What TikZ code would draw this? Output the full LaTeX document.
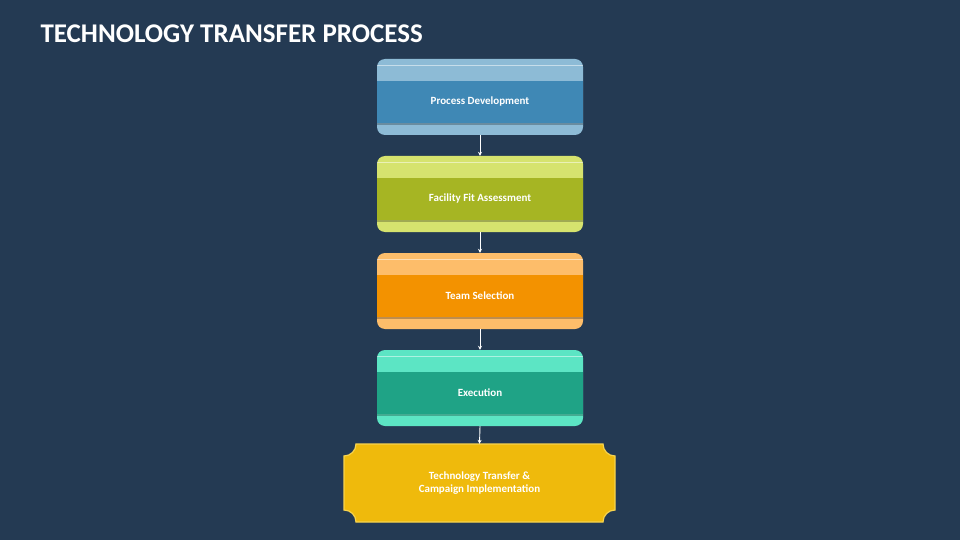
\documentclass[tikz,border=0pt]{standalone}
\usepackage{fontspec}
\setmainfont{Carlito}
\usepackage{tikz}
\usetikzlibrary{arrows.meta,calc,positioning}

\definecolor{bgcol}{HTML}{243A53}
\definecolor{blueL}{HTML}{8DBBD6}
\definecolor{blueD}{HTML}{3F88B5}
\definecolor{greenL}{HTML}{D6E36E}
\definecolor{greenD}{HTML}{A6B523}
\definecolor{orangeL}{HTML}{FDBD6A}
\definecolor{orangeD}{HTML}{F39200}
\definecolor{tealL}{HTML}{5CE5C4}
\definecolor{tealD}{HTML}{1FA386}
\definecolor{goldF}{HTML}{EFBA0C}
\definecolor{goldB}{HTML}{F8D34E}

\tikzset{
  stepbox/.style = {rounded corners = 8pt, minimum width = 206pt,
    minimum height = 76pt, inner sep = 0pt},
  steptext/.style = {text = white, font = \fontsize{11}{13}\selectfont\bfseries},
  flow/.style = {white, line width = 0.9pt, -{Stealth[length=4pt,width=4pt]}}
}

\begin{document}
\begin{tikzpicture}[x = 1pt, y = 1pt]

\fill[bgcol] (0,0) rectangle (960,-540);
\useasboundingbox (0,0) rectangle (960,-540);

\node[anchor = west, text = white, font = \fontsize{27}{30}\selectfont\bfseries]
  (title) at (37,-34) {TECHNOLOGY TRANSFER PROCESS};

% the four steps
\foreach \i/\lc/\dc/\txt in {1/blueL/blueD/Process Development,
    2/greenL/greenD/Facility Fit Assessment,
    3/orangeL/orangeD/Team Selection,
    4/tealL/tealD/Execution} {
  \node[stepbox, fill = \lc] (p\i) at (480,{-97 - 97*(\i-1)}) {};
  \fill[\dc] ($(p\i.north west) + (0,-22)$) rectangle ($(p\i.north east) + (0,-64)$);
  \draw[white, opacity = 0.5, line width = 1pt]
    ($(p\i.north west) + (0,-7)$) -- ($(p\i.north east) + (0,-7)$);
  \draw[black, opacity = 0.25, line width = 1.5pt]
    ($(p\i.north west) + (0,-65)$) -- ($(p\i.north east) + (0,-65)$);
  \node[steptext] (t\i) at ($(p\i.center) + (0,-5)$) {\txt};
}

% final step
\node[minimum width = 271pt, minimum height = 78pt, inner sep = 0pt] (ttc) at (479.5,-483) {};
\filldraw[fill = goldF, draw = goldB, line width = 1.2pt]
  (356,-444) -- (603,-444) arc (180:270:12) -- (615,-510) arc (90:180:12)
  -- (356,-522) arc (0:90:12) -- (344,-456) arc (270:360:12) -- cycle;
\node[steptext, align = center] (tt) at (ttc.center)
  {Technology Transfer \&\\Campaign Implementation};

\draw[flow] (p1.south) -- (p2.north);
\draw[flow] (p2.south) -- (p3.north);
\draw[flow] (p3.south) -- (p4.north);
\draw[flow] (p4.south) -- (ttc.north);

\end{tikzpicture}
\end{document}
